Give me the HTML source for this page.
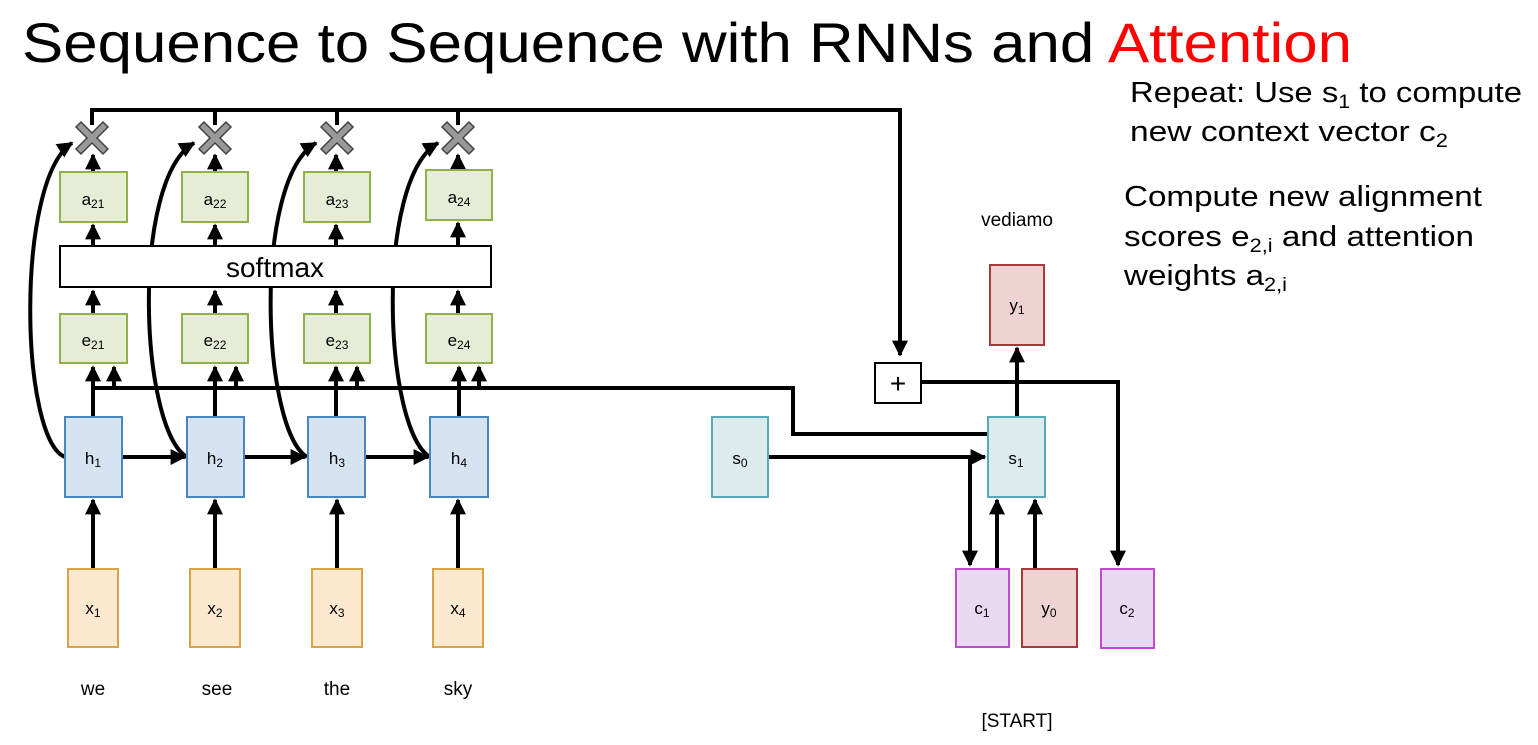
<!DOCTYPE html>
<html><head><meta charset="utf-8"><style>
html,body{margin:0;padding:0;background:#fff;}
svg{display:block;font-family:"Liberation Sans",Arial,sans-serif;}
</style></head><body>
<svg width="1538" height="745" viewBox="0 0 1538 745" xmlns="http://www.w3.org/2000/svg">
<defs>
<marker id="ar" viewBox="0 0 10 10" refX="9" refY="5" markerWidth="4" markerHeight="4" orient="auto" markerUnits="strokeWidth"><path d="M0,0 L10,5 L0,10 z" fill="#000"/></marker>
<g id="xm"><path d="M-16,-11 L-11,-16 L0,-5 L11,-16 L16,-11 L5,0 L16,11 L11,16 L0,5 L-11,16 L-16,11 L-5,0 z" fill="#999" stroke="#444" stroke-width="1.5"/></g>
</defs>
<text x="22" y="62" font-size="56" textLength="1330" lengthAdjust="spacingAndGlyphs">Sequence to Sequence with RNNs and <tspan fill="#ff0000">Attention</tspan></text>

<g stroke="#000" stroke-width="4" fill="none">
<path d="M92,125 V110 H900 V355" marker-end="url(#ar)"/>
<path d="M215,125 V110"/><path d="M337,125 V110"/><path d="M458,125 V110"/>
<path d="M93,388 H793 V434 H988"/>
<path d="M921,382 H1118 V565" marker-end="url(#ar)"/>
<path d="M768,457 H985" marker-end="url(#ar)"/>
<path d="M970,457 V565" marker-end="url(#ar)"/>
<path d="M997,569 V500" marker-end="url(#ar)"/>
<path d="M1035,569 V500" marker-end="url(#ar)"/>
<path d="M1017,417 V348" marker-end="url(#ar)"/>
</g>

<g stroke="#000" stroke-width="4" fill="none">
<path d="M93,417 V367" marker-end="url(#ar)"/><path d="M114,388 V367" marker-end="url(#ar)"/>
<path d="M215,417 V367" marker-end="url(#ar)"/><path d="M236,388 V367" marker-end="url(#ar)"/>
<path d="M336,417 V367" marker-end="url(#ar)"/><path d="M357,388 V367" marker-end="url(#ar)"/>
<path d="M459,417 V367" marker-end="url(#ar)"/><path d="M479,388 V367" marker-end="url(#ar)"/>
<path d="M93,314 V291" marker-end="url(#ar)"/><path d="M215,314 V291" marker-end="url(#ar)"/><path d="M336,314 V291" marker-end="url(#ar)"/><path d="M458,314 V291" marker-end="url(#ar)"/>
<path d="M93,246 V225" marker-end="url(#ar)"/><path d="M215,246 V225" marker-end="url(#ar)"/><path d="M336,246 V225" marker-end="url(#ar)"/><path d="M458,246 V223" marker-end="url(#ar)"/>
<path d="M93,172 V155" marker-end="url(#ar)"/><path d="M215,172 V155" marker-end="url(#ar)"/><path d="M336,172 V155" marker-end="url(#ar)"/><path d="M458,170 V155" marker-end="url(#ar)"/>
<path d="M122,457 H185" marker-end="url(#ar)"/><path d="M244,457 H305" marker-end="url(#ar)"/><path d="M365,457 H428" marker-end="url(#ar)"/>
<path d="M93,569 V500" marker-end="url(#ar)"/><path d="M215,569 V500" marker-end="url(#ar)"/><path d="M337,569 V500" marker-end="url(#ar)"/><path d="M458,569 V500" marker-end="url(#ar)"/>
<path d="M65,457 C20,440 15,180 72,143" marker-end="url(#ar)"/>
<path d="M187,457 C140,430 130,180 194,143" marker-end="url(#ar)"/>
<path d="M307,457 C262,430 252,180 316,143" marker-end="url(#ar)"/>
<path d="M430,457 C384,430 374,180 438,143" marker-end="url(#ar)"/>
</g>

<use href="#xm" x="92" y="138"/><use href="#xm" x="215" y="138"/><use href="#xm" x="337" y="138"/><use href="#xm" x="458" y="138"/>

<g stroke="#8fb04a" stroke-width="2" fill="#e6edd7">
<rect x="60" y="172" width="67" height="50"/><rect x="182" y="172" width="66" height="50"/><rect x="304" y="172" width="66" height="50"/><rect x="426" y="170" width="66" height="50"/>
<rect x="60" y="314" width="67" height="49"/><rect x="182" y="314" width="66" height="49"/><rect x="304" y="314" width="66" height="49"/><rect x="426" y="314" width="66" height="49"/>
</g>
<rect x="60" y="246" width="431" height="41" fill="#fff" stroke="#000" stroke-width="2"/>
<text x="275" y="277" font-size="28" text-anchor="middle">softmax</text>
<g stroke="#4a86c0" stroke-width="2" fill="#d6e4f1">
<rect x="65" y="417" width="57" height="80"/><rect x="187" y="417" width="57" height="80"/><rect x="308" y="417" width="57" height="80"/><rect x="430" y="417" width="58" height="80"/>
</g>
<g stroke="#d9a446" stroke-width="2" fill="#fce9cf">
<rect x="68" y="569" width="50" height="78"/><rect x="190" y="569" width="50" height="78"/><rect x="312" y="569" width="50" height="78"/><rect x="433" y="569" width="50" height="78"/>
</g>
<g stroke="#5aa9b9" stroke-width="2" fill="#dcebee">
<rect x="712" y="417" width="56" height="80"/><rect x="988" y="417" width="57" height="80"/>
</g>
<g stroke="#c04bd0" stroke-width="2" fill="#ead9f2">
<rect x="956" y="569" width="53" height="78"/><rect x="1101" y="569" width="53" height="79"/>
</g>
<g stroke="#a53a3a" stroke-width="2" fill="#efd3d2">
<rect x="1022" y="569" width="55" height="78"/><rect x="990" y="265" width="54" height="80"/>
</g>
<rect x="875" y="363" width="46" height="40" fill="#fff" stroke="#000" stroke-width="2"/>
<text x="898" y="393" font-size="28" text-anchor="middle">+</text>

<g font-size="17" text-anchor="middle">
<text x="93" y="205">a<tspan font-size="12" dy="3">21</tspan></text>
<text x="215" y="205">a<tspan font-size="12" dy="3">22</tspan></text>
<text x="337" y="205">a<tspan font-size="12" dy="3">23</tspan></text>
<text x="459" y="203">a<tspan font-size="12" dy="3">24</tspan></text>
<text x="93" y="346">e<tspan font-size="12" dy="3">21</tspan></text>
<text x="215" y="346">e<tspan font-size="12" dy="3">22</tspan></text>
<text x="337" y="346">e<tspan font-size="12" dy="3">23</tspan></text>
<text x="459" y="346">e<tspan font-size="12" dy="3">24</tspan></text>
<text x="93" y="464">h<tspan font-size="12" dy="3">1</tspan></text>
<text x="215" y="464">h<tspan font-size="12" dy="3">2</tspan></text>
<text x="337" y="464">h<tspan font-size="12" dy="3">3</tspan></text>
<text x="459" y="464">h<tspan font-size="12" dy="3">4</tspan></text>
<text x="93" y="614">x<tspan font-size="12" dy="3">1</tspan></text>
<text x="215" y="614">x<tspan font-size="12" dy="3">2</tspan></text>
<text x="337" y="614">x<tspan font-size="12" dy="3">3</tspan></text>
<text x="458" y="614">x<tspan font-size="12" dy="3">4</tspan></text>
<text x="740" y="464">s<tspan font-size="12" dy="3">0</tspan></text>
<text x="1016" y="464">s<tspan font-size="12" dy="3">1</tspan></text>
<text x="982" y="614">c<tspan font-size="12" dy="3">1</tspan></text>
<text x="1049" y="614">y<tspan font-size="12" dy="3">0</tspan></text>
<text x="1127" y="614">c<tspan font-size="12" dy="3">2</tspan></text>
<text x="1017" y="311">y<tspan font-size="12" dy="3">1</tspan></text>
</g>
<g font-size="19" text-anchor="middle">
<text x="93" y="695">we</text><text x="217" y="695">see</text><text x="337" y="695">the</text><text x="458" y="695">sky</text>
<text x="1017" y="727">[START]</text><text x="1017" y="226">vediamo</text>
</g>
<g font-size="29">
<text x="1130" y="102" textLength="392" lengthAdjust="spacingAndGlyphs">Repeat: Use s<tspan font-size="19" dy="6">1</tspan><tspan dy="-6"> to compute</tspan></text>
<text x="1130" y="141" textLength="318" lengthAdjust="spacingAndGlyphs">new context vector c<tspan font-size="19" dy="6">2</tspan></text>
<text x="1124" y="206" textLength="358" lengthAdjust="spacingAndGlyphs">Compute new alignment</text>
<text x="1124" y="246" textLength="350" lengthAdjust="spacingAndGlyphs">scores e<tspan font-size="19" dy="6">2,i</tspan><tspan dy="-6"> and attention</tspan></text>
<text x="1124" y="285" textLength="163" lengthAdjust="spacingAndGlyphs">weights a<tspan font-size="19" dy="6">2,i</tspan></text>
</g>
</svg>
</body></html>
